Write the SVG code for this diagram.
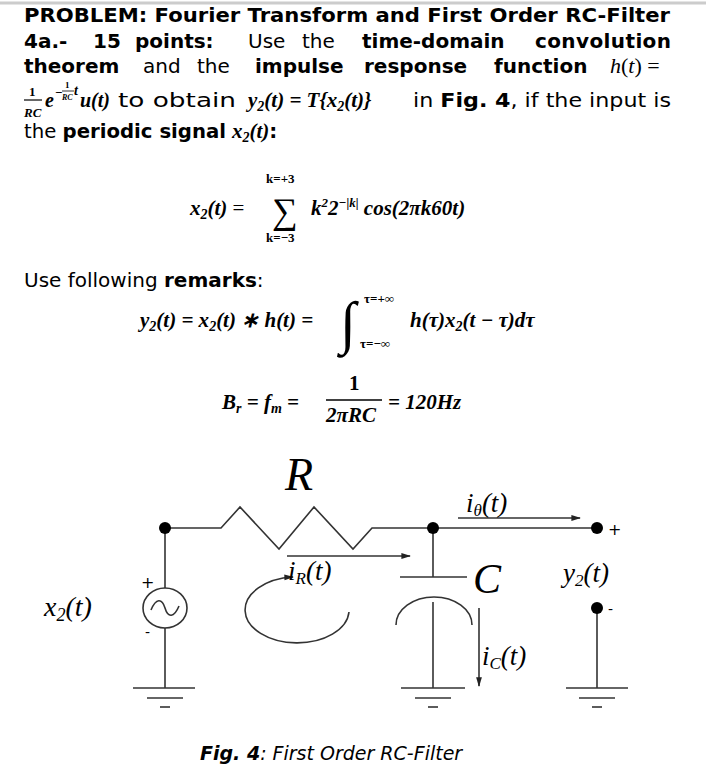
<svg xmlns="http://www.w3.org/2000/svg" width="706" height="767" viewBox="0 0 706 767">
<defs>
<style>
.t{font-family:"DejaVu Sans",sans-serif;font-size:20px;fill:#000}
.b{font-weight:bold}
.m{font-family:"Liberation Serif",serif;font-style:italic;font-weight:bold}
.mr{font-family:"Liberation Serif",serif;font-weight:bold}
.c{font-family:"Liberation Serif",serif;font-style:italic}
.w{stroke:#333;stroke-width:1.6;fill:none}
</style>
<marker id="ar" viewBox="0 0 10 10" refX="9" refY="5" markerWidth="8" markerHeight="6" orient="auto"><path d="M0,2 L10,5 L0,8 z" fill="#222"/></marker>
</defs>
<rect width="706" height="767" fill="#fff"/>
<line x1="0" y1="3" x2="706" y2="3" stroke="#ccc" stroke-width="3"/>
<g id="text">
<text class="t b" x="24" y="22" textLength="646" lengthAdjust="spacingAndGlyphs">PROBLEM: Fourier Transform and First Order RC-Filter</text>
<g class="t">
<text class="b" x="24" y="48">4a.-</text><text class="b" x="93" y="48">15</text><text class="b" x="135" y="48">points:</text>
<text x="248" y="48">Use</text><text x="302" y="48">the</text>
<text class="b" x="362" y="48">time-domain</text><text class="b" x="535" y="48" textLength="136">convolution</text>
<text class="b" x="24" y="73">theorem</text><text x="143" y="73">and</text><text x="197" y="73">the</text>
<text class="b" x="255" y="73">impulse</text><text class="b" x="364" y="73">response</text><text class="b" x="494" y="73">function</text>
<text x="118" y="107" textLength="118" lengthAdjust="spacingAndGlyphs">to obtain</text>
<text x="413" y="107" textLength="258" lengthAdjust="spacingAndGlyphs">in <tspan class="b">Fig. 4</tspan>, if the input is</text>
<text x="24" y="138" textLength="202" lengthAdjust="spacingAndGlyphs">the <tspan class="b">periodic signal</tspan></text>
<text x="24" y="287">Use following <tspan class="b">remarks</tspan>:</text>
</g>
<text class="m" x="610" y="73" font-size="22" style="font-weight:normal">h<tspan font-style="normal">(</tspan>t<tspan font-style="normal">) =</tspan></text>
<text class="mr" x="29" y="96" font-size="13">1</text>
<line x1="24" y1="100" x2="42" y2="100" stroke="#000" stroke-width="1.2"/>
<text class="m" x="24" y="117" font-size="13">RC</text>
<text class="m" x="45" y="107" font-size="20">e</text>
<text class="mr" x="55" y="97" font-size="13">−</text>
<text class="mr" x="65" y="88" font-size="9">1</text>
<line x1="62" y1="91" x2="74" y2="91" stroke="#000" stroke-width="0.8"/>
<text class="m" x="62" y="100" font-size="8">RC</text>
<text class="m" x="74" y="95" font-size="14">t</text>
<text class="m" x="80" y="107" font-size="20">u(t)</text>
<text class="m" x="248" y="107" font-size="21">y<tspan font-size="14" dy="4">2</tspan><tspan dy="-4">(t) = T{x</tspan><tspan font-size="14" dy="4">2</tspan><tspan dy="-4">(t)}</tspan></text>
<text class="m" x="232" y="138" font-size="21">x<tspan font-size="14" dy="4">2</tspan><tspan dy="-4">(t)</tspan><tspan class="t b" font-style="normal">:</tspan></text>

<text class="m" x="190" y="215" font-size="21">x<tspan font-size="14" dy="4">2</tspan><tspan dy="-4">(t)</tspan><tspan font-style="normal" style="font-weight:normal"> =</tspan></text>
<text class="mr" x="266" y="183" font-size="13">k=+3</text>
<text class="mr" x="272" y="223" font-size="36" style="font-weight:normal">∑</text>
<text class="mr" x="266" y="242" font-size="13">k=−3</text>
<text class="m" x="311" y="215" font-size="21">k<tspan font-size="13" dy="-8">2</tspan><tspan dy="8">2</tspan><tspan font-size="13" dy="-8">−|k|</tspan><tspan dy="8"> cos(2πk60t)</tspan></text>

<text class="m" x="140" y="327" font-size="21">y<tspan font-size="14" dy="4">2</tspan><tspan dy="-4">(t) = x</tspan><tspan font-size="14" dy="4">2</tspan><tspan dy="-4">(t) ∗ h(t) =</tspan></text>
<text class="mr" x="340" y="342" font-size="58" style="font-weight:normal">∫</text>
<text class="mr" x="364" y="303" font-size="13">τ=+∞</text>
<text class="mr" x="360" y="348" font-size="13">τ=−∞</text>
<text class="m" x="410" y="327" font-size="21">h(τ)x<tspan font-size="14" dy="4">2</tspan><tspan dy="-4">(t − τ)dτ</tspan></text>

<text class="m" x="222" y="409" font-size="21">B<tspan font-size="14" dy="4">r</tspan><tspan dy="-4"> = f</tspan><tspan font-size="14" dy="4">m</tspan><tspan dy="-4"> =</tspan></text>
<text class="mr" x="349" y="390" font-size="21">1</text>
<line x1="326" y1="400" x2="382" y2="400" stroke="#000" stroke-width="1.3"/>
<text class="m" x="326" y="422" font-size="21">2πRC</text>
<text class="m" x="388" y="409" font-size="21">= 120Hz</text>
<text x="200" y="760" font-family="DejaVu Sans,sans-serif" font-style="italic" font-size="19"><tspan font-weight="bold">Fig. 4</tspan>: First Order RC-Filter</text>
</g>

<g id="connectors">
<polyline class="w" points="165,528 221,528 240,507 279,549 314,507 353,549 372,528 597,528"/>
<line class="w" x1="165" y1="528" x2="165" y2="588"/>
<line class="w" x1="165" y1="628" x2="165" y2="688"/>
<line class="w" x1="433" y1="528" x2="433" y2="577"/>
<line class="w" x1="433" y1="602" x2="433" y2="688"/>
<line class="w" x1="597" y1="608" x2="597" y2="688"/>
<line class="w" x1="458" y1="518" x2="580" y2="518" marker-end="url(#ar)"/>
<line class="w" x1="287" y1="556" x2="410" y2="556" marker-end="url(#ar)"/>
<line class="w" x1="479" y1="608" x2="479" y2="686" marker-end="url(#ar)"/>
</g>

<g id="nodes">
<circle cx="165" cy="528" r="6" fill="#000"/>
<circle cx="433" cy="528" r="6" fill="#000"/>
<circle cx="597" cy="528" r="6" fill="#000"/>
<circle cx="597" cy="608" r="6" fill="#000"/>
<text x="608" y="535" font-family="DejaVu Sans,sans-serif" font-size="16">+</text>
<text x="608" y="614" font-family="DejaVu Sans,sans-serif" font-size="14">-</text>
<g id="source">
<ellipse class="w" cx="165" cy="608" rx="22" ry="20" stroke-width="2"/>
<path class="w" d="M151,610 C156,598 162,598 165,608 C168,618 174,618 179,606" stroke-width="2"/>
<text x="141" y="588" font-family="DejaVu Sans,sans-serif" font-size="16">+</text>
<text x="145" y="637" font-family="DejaVu Sans,sans-serif" font-size="14">-</text>
<text class="c" x="44" y="616" font-size="28">x<tspan font-size="18" dy="5">2</tspan><tspan dy="-5">(t)</tspan></text>
</g>
<g id="resistor"><text x="285" y="490" font-family="Liberation Serif,serif" font-style="italic" font-size="46">R</text></g>
<g id="capacitor">
<line class="w" x1="400" y1="577" x2="467" y2="577"/>
<path class="w" d="M396,625 A38,28 0 0 1 472,625" stroke-width="2"/>
<text x="473" y="593" font-family="Liberation Serif,serif" font-style="italic" font-size="42">C</text>
</g>
<path class="w" d="M349,612 A52,33 0 1 1 293,577" stroke-width="2" marker-end="url(#ar)"/>
<text class="c" x="466" y="512" font-size="27">i<tspan font-size="17" dy="4">θ</tspan><tspan dy="-4">(t)</tspan></text>
<text class="c" x="288" y="580" font-size="27">i<tspan font-size="17" dy="4">R</tspan><tspan dy="-4">(t)</tspan></text>
<text class="c" x="482" y="665" font-size="27">i<tspan font-size="17" dy="4">C</tspan><tspan dy="-4">(t)</tspan></text>
<text class="c" x="563" y="582" font-size="27">y<tspan font-size="17" dy="4">2</tspan><tspan dy="-4">(t)</tspan></text>
<g id="grounds" stroke="#333" stroke-width="1.6">
<line x1="133" y1="688" x2="195" y2="688"/><line x1="147" y1="698" x2="183" y2="698"/><line x1="160" y1="707" x2="170" y2="707"/>
<line x1="401" y1="688" x2="465" y2="688"/><line x1="415" y1="698" x2="451" y2="698"/><line x1="428" y1="707" x2="438" y2="707"/>
<line x1="566" y1="688" x2="628" y2="688"/><line x1="579" y1="698" x2="615" y2="698"/><line x1="592" y1="707" x2="602" y2="707"/>
</g>
</g>
</svg>
